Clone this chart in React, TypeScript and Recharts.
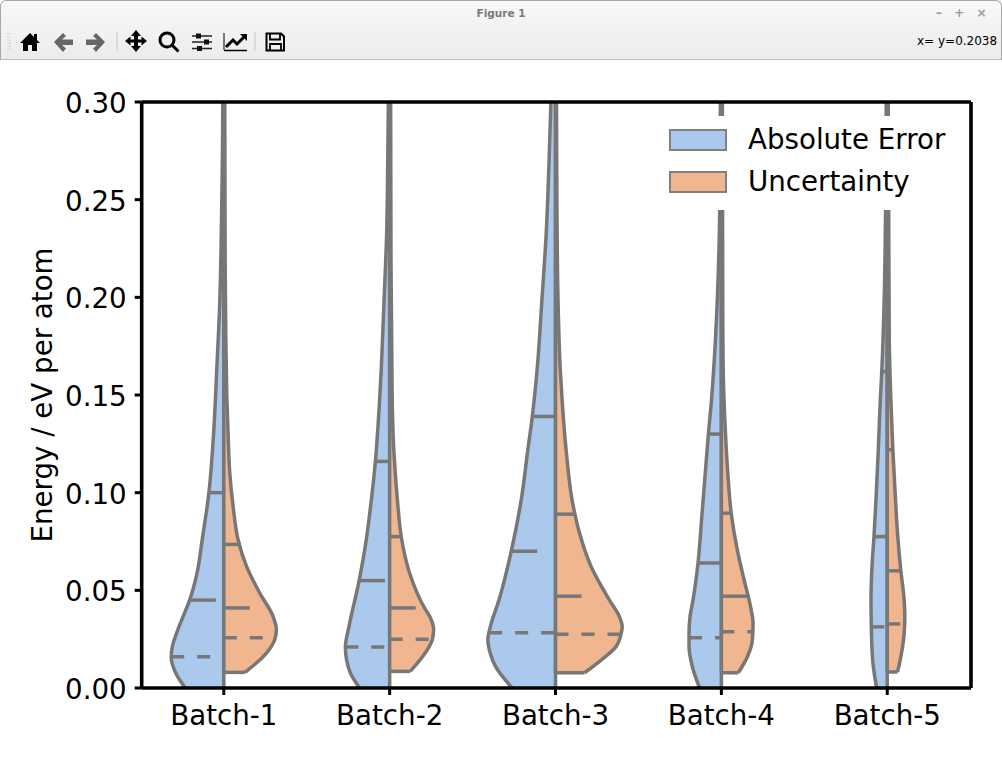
import React from "react";
import { ComposedChart, Area, XAxis, YAxis, ReferenceLine, Legend } from "recharts";

const categories = ["Batch-1", "Batch-2", "Batch-3", "Batch-4", "Batch-5"];
const yTicks = [0, 0.05, 0.1, 0.15, 0.2, 0.25, 0.3];
const xTicks = [1, 2, 3, 4, 5];

const b1ErrY = [0, 0.0077, 0.0159, 0.0213, 0.028, 0.0367, 0.0445, 0.0589, 0.076, 0.0998, 0.127, 0.164, 0.198, 0.233, 0.267, 0.3];
const b1ErrW = [0.232, 0.29, 0.317, 0.31, 0.285, 0.245, 0.208, 0.161, 0.13, 0.09, 0.064, 0.042, 0.024, 0.015, 0.009, 0.006];
const b1UncY = [0.008, 0.0179, 0.0247, 0.0299, 0.0367, 0.0486, 0.0623, 0.0759, 0.093, 0.11, 0.127, 0.15, 0.18, 0.22, 0.3];
const b1UncW = [0.128, 0.257, 0.307, 0.317, 0.297, 0.217, 0.137, 0.086, 0.056, 0.036, 0.027, 0.018, 0.012, 0.008, 0.006];

const b2ErrY = [0, 0.0077, 0.0145, 0.021, 0.0316, 0.0546, 0.0759, 0.093, 0.116, 0.127, 0.1644, 0.198, 0.233, 0.267, 0.3];
const b2ErrW = [0.181, 0.237, 0.26, 0.267, 0.245, 0.185, 0.141, 0.115, 0.086, 0.076, 0.05, 0.034, 0.018, 0.012, 0.008];
const b2UncY = [0.0085, 0.0162, 0.0247, 0.0299, 0.0367, 0.041, 0.0589, 0.0773, 0.093, 0.11, 0.127, 0.15, 0.18, 0.22, 0.3];
const b2UncW = [0.124, 0.2, 0.257, 0.265, 0.241, 0.21, 0.12, 0.07, 0.05, 0.034, 0.022, 0.015, 0.012, 0.008, 0.006];

const b3ErrY = [0, 0.0109, 0.0177, 0.0246, 0.0314, 0.045, 0.07, 0.0962, 0.1218, 0.139, 0.164, 0.1987, 0.233, 0.267, 0.3];
const b3ErrW = [0.261, 0.361, 0.393, 0.408, 0.393, 0.341, 0.267, 0.207, 0.167, 0.14, 0.11, 0.082, 0.056, 0.04, 0.028];
const b3UncY = [0.0078, 0.0143, 0.0212, 0.028, 0.0314, 0.0365, 0.045, 0.0621, 0.0792, 0.0962, 0.1218, 0.147, 0.164, 0.199, 0.24, 0.3];
const b3UncW = [0.175, 0.275, 0.365, 0.396, 0.402, 0.385, 0.325, 0.215, 0.145, 0.1, 0.064, 0.04, 0.028, 0.015, 0.009, 0.006];

const b4ErrY = [0, 0.0109, 0.0212, 0.028, 0.0365, 0.045, 0.0638, 0.0877, 0.1133, 0.1304, 0.147, 0.165, 0.2, 0.245, 0.3];
const b4ErrW = [0.131, 0.175, 0.195, 0.195, 0.189, 0.171, 0.141, 0.118, 0.094, 0.078, 0.06, 0.045, 0.024, 0.01, 0.006];
const b4UncY = [0.0078, 0.016, 0.0246, 0.0331, 0.0416, 0.0553, 0.0707, 0.089, 0.1133, 0.139, 0.147, 0.18, 0.3];
const b4UncW = [0.102, 0.157, 0.187, 0.191, 0.176, 0.137, 0.096, 0.06, 0.036, 0.02, 0.016, 0.009, 0.006];

const b5ErrY = [0, 0.0143, 0.0314, 0.045, 0.0621, 0.0775, 0.0962, 0.1218, 0.147, 0.162, 0.2, 0.245, 0.3];
const b5ErrW = [0.064, 0.088, 0.096, 0.098, 0.092, 0.08, 0.068, 0.054, 0.042, 0.033, 0.018, 0.01, 0.006];
const b5UncY = [0.0082, 0.016, 0.028, 0.0365, 0.045, 0.06, 0.0792, 0.0962, 0.1218, 0.147, 0.18, 0.3];
const b5UncW = [0.062, 0.082, 0.102, 0.106, 0.102, 0.082, 0.062, 0.05, 0.034, 0.022, 0.012, 0.006];

// quartile levels: [dashed level, lower solid level, upper solid level]
const errQuartY = [
  [0.016, 0.045, 0.1],
  [0.021, 0.055, 0.116],
  [0.0283, 0.07, 0.139],
  [0.0257, 0.064, 0.13],
  [0.0313, 0.0775, 0.162],
];
const errQuartW = [
  [0.317, 0.205, 0.09],
  [0.267, 0.185, 0.086],
  [0.4, 0.267, 0.14],
  [0.195, 0.141, 0.078],
  [0.096, 0.08, 0.033],
];
const uncQuartY = [
  [0.0257, 0.041, 0.0735],
  [0.025, 0.041, 0.0775],
  [0.0275, 0.047, 0.089],
  [0.0288, 0.047, 0.0895],
  [0.0328, 0.06, 0.122],
];
const uncQuartW = [
  [0.31, 0.25, 0.087],
  [0.257, 0.21, 0.07],
  [0.396, 0.3, 0.118],
  [0.19, 0.165, 0.058],
  [0.105, 0.082, 0.034],
];

const errSides = [[b1ErrY, b1ErrW], [b2ErrY, b2ErrW], [b3ErrY, b3ErrW], [b4ErrY, b4ErrW], [b5ErrY, b5ErrW]];
const uncSides = [[b1UncY, b1UncW], [b2UncY, b2UncW], [b3UncY, b3UncW], [b4UncY, b4UncW], [b5UncY, b5UncW]];

const BLUE = "#abc9ec";
const ORANGE = "#f0b690";
const GREY = "#777777";
const FONT = "'DejaVu Sans', sans-serif";
const FS = 27.7;
const LW = 3.5;

const side = (center: number, ys: number[], ws: number[], dir: number) =>
  ys.map((y, i) => ({ y, range: [center, center + dir * ws[i]] }));

function LegendBox() {
  const rows = [
    { name: "Absolute Error", color: BLUE },
    { name: "Uncertainty", color: ORANGE },
  ];
  return (
    <div style={{ position: "relative", width: 300, height: 94, background: "#fff", fontFamily: FONT, fontSize: FS, color: "#000" }}>
      {rows.map((r, i) => (
        <div key={r.name} style={{ position: "absolute", left: 0, top: 13 + i * 41.5, height: 22, width: 300 }}>
          <div style={{ position: "absolute", left: 9, top: 0, width: 54, height: 18, background: r.color, border: "2px solid #808080" }} />
          <div style={{ position: "absolute", left: 88, top: -5, lineHeight: "32px", whiteSpace: "nowrap" }}>{r.name}</div>
        </div>
      ))}
    </div>
  );
}

function Chrome() {
  return (
    <>
      <div style={{ position: "absolute", left: 0, top: 0, width: 1002, height: 60, boxSizing: "border-box", border: "1px solid #a8a8a8", borderBottom: "1px solid #bdbdbd", borderRadius: "6px 6px 0 0", background: "linear-gradient(#f8f8f8, #ececec)" }} />
      <div style={{ position: "absolute", left: 0, top: 3, width: 1002, textAlign: "center", fontFamily: FONT, fontWeight: 700, fontSize: 10.5, lineHeight: "20px", color: "#7a7a7a" }}>Figure 1</div>
      <div style={{ position: "absolute", left: 936, top: 3, fontFamily: FONT, fontWeight: 700, fontSize: 12, lineHeight: "20px", color: "#999", whiteSpace: "nowrap", wordSpacing: 8 }}>– + ×</div>
      <div style={{ position: "absolute", left: 917, top: 31, fontFamily: FONT, fontSize: 12, lineHeight: "20px", color: "#000", whiteSpace: "nowrap" }}>x= y=0.2038</div>
      <svg width={1002} height={60} style={{ position: "absolute", left: 0, top: 0 }}>
        <line x1={8} y1={33} x2={8} y2={50} stroke="#bbb" strokeDasharray="1 2" />
        <line x1={10} y1={34} x2={10} y2={50} stroke="#bbb" strokeDasharray="1 2" />
        <path d="M20 43 L30 33 L34 37 L34 34 L37 34 L37 40 L40 43 L37 43 L37 51 L32 51 L32 45 L28 45 L28 51 L23 51 L23 43 Z" fill="#000" />
        <path d="M54 42 L63 33 L66 36 L62 39.5 L73 39.5 L73 45 L62 45 L66 48.5 L63 52 Z" fill="#666" />
        <path d="M105 42 L96 33 L93 36 L97 39.5 L86 39.5 L86 45 L97 45 L93 48.5 L96 52 Z" fill="#666" />
        <path d="M136 30 L141 36 L138 36 L138 39.5 L141.5 39.5 L141.5 36.5 L147 41 L141.5 45.5 L141.5 42.5 L138 42.5 L138 46 L141 46 L136 52 L131 46 L134 46 L134 42.5 L130.5 42.5 L130.5 45.5 L125 41 L130.5 36.5 L130.5 39.5 L134 39.5 L134 36 L131 36 Z" fill="#000" />
        <circle cx={167} cy={40} r={7} fill="none" stroke="#000" strokeWidth={3} />
        <line x1={172} y1={45} x2={178.5} y2={51.5} stroke="#000" strokeWidth={3} />
        <path d="M192 36 H212 M192 42 H212 M192 48.5 H212" stroke="#222" strokeWidth={1.5} />
        <rect x={196} y={33.5} width={5} height={5} fill="#111" />
        <rect x={204} y={39.5} width={5} height={5} fill="#111" />
        <rect x={197} y={46} width={5} height={5} fill="#111" />
        <path d="M224 50.5 H247" stroke="#000" strokeWidth={1.5} />
        <path d="M224 33 V50" stroke="#000" strokeWidth={1} />
        <path d="M226 47 L233 40 L237 44 L245 36" fill="none" stroke="#000" strokeWidth={3} />
        <path d="M240 34 H247 V41 Z" fill="#000" />
        <path d="M266.5 33.5 H281 L284 36.5 V50.5 H266.5 Z" fill="none" stroke="#000" strokeWidth={2} />
        <path d="M270 34 V39.5 H280 V34 M270 50 V44 H281 V50" fill="none" stroke="#000" strokeWidth={1.8} />
        <line x1={117} y1={32} x2={117} y2={51} stroke="#c8c8c8" />
        <line x1={255} y1={32} x2={255} y2={51} stroke="#c8c8c8" />
      </svg>
    </>
  );
}

export default function App() {
  const axisTick = { fill: "#000", fontFamily: FONT, fontSize: FS };
  const yAxisTick = { ...axisTick, dy: 1 };
  const tickLine = { stroke: "#000", strokeWidth: 3 };
  const axisLine = { stroke: "#000", strokeWidth: 3.6 };
  return (
    <div style={{ position: "fixed", left: 0, top: 0, width: 1002, height: 762, background: "#fff", overflow: "hidden" }}>
      <Chrome />
      <div style={{ position: "absolute", left: 0, top: 60 }}>
        <ComposedChart
          width={1002}
          height={702}
          layout="vertical"
          margin={{ top: 42, right: 31, bottom: 0, left: 0 }}
        >
          <XAxis
            type="number"
            dataKey="range"
            domain={[0.505, 5.505]}
            ticks={xTicks}
            allowDataOverflow
            tickFormatter={(v: number) => categories[v - 1]}
            height={74}
            tick={axisTick}
            tickLine={tickLine}
            axisLine={axisLine}
            tickSize={7}
            tickMargin={10}
          />
          <YAxis
            type="number"
            dataKey="y"
            domain={[0, 0.3]}
            ticks={yTicks}
            allowDataOverflow
            reversed
            width={141.7}
            tick={yAxisTick}
            tickLine={tickLine}
            axisLine={axisLine}
            tickSize={7}
            tickMargin={8}
            tickFormatter={(v: number) => v.toFixed(2)}
            label={{ value: "Energy / eV per atom", angle: -90, position: "insideLeft", dx: 37, dy: 0, style: { fontFamily: FONT, fontSize: FS, fill: "#000", textAnchor: "middle" } }}
          />
          {errSides.map(([ys, ws], i) => (
            <Area key={"e" + i} name="Absolute Error" data={side(i + 1, ys, ws, -1)} dataKey="range" type="monotone" fill={BLUE} fillOpacity={1} stroke={GREY} strokeWidth={LW} dot={false} activeDot={false} isAnimationActive={false} />
          ))}
          {uncSides.map(([ys, ws], i) => (
            <Area key={"u" + i} name="Uncertainty" data={side(i + 1, ys, ws, 1)} dataKey="range" type="monotone" fill={ORANGE} fillOpacity={1} stroke={GREY} strokeWidth={LW} dot={false} activeDot={false} isAnimationActive={false} />
          ))}
          {uncSides.map(([ys, ws], i) => (
            <ReferenceLine key={"cap" + i} segment={[{ x: i + 1, y: ys[0] }, { x: i + 1 + ws[0], y: ys[0] }]} stroke={GREY} strokeWidth={LW} />
          ))}
          {errQuartY.flatMap((row, i) =>
            row.map((y, j) => (
              <ReferenceLine key={`eq${i}${j}`} segment={[{ x: i + 1 - errQuartW[i][j], y }, { x: i + 1, y }]} stroke={GREY} strokeWidth={LW} strokeDasharray={j === 0 ? "13 13" : "26 26"} />
            ))
          )}
          {uncQuartY.flatMap((row, i) =>
            row.map((y, j) => (
              <ReferenceLine key={`uq${i}${j}`} segment={[{ x: i + 1, y }, { x: i + 1 + uncQuartW[i][j], y }]} stroke={GREY} strokeWidth={LW} strokeDasharray={j === 0 ? "13 13" : "26 26"} />
            ))
          )}
          <ReferenceLine y={0.3} stroke="#000" strokeWidth={3.6} />
          <ReferenceLine x={5.505} stroke="#000" strokeWidth={3.6} />
          <Legend
            layout="vertical"
            align="center"
            verticalAlign="middle"
            content={() => <LegendBox />}
            wrapperStyle={{ position: "absolute", left: 660, top: 56, width: 300, height: 94 }}
          />
        </ComposedChart>
      </div>
    </div>
  );
}
